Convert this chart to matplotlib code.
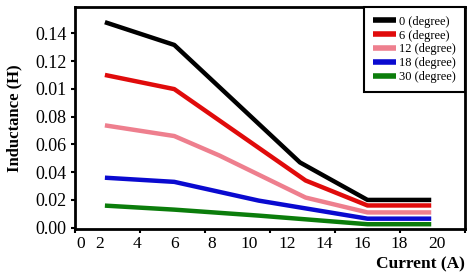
import numpy as np
import matplotlib
matplotlib.use('Agg')
import matplotlib.pyplot as plt

plt.rcParams['font.family'] = ['Liberation Serif', 'DejaVu Serif']

# current (A) and inductance (H)
x_black = [2.3, 6.0, 12.7, 16.3, 19.7]
y_black = [0.148, 0.1316, 0.047, 0.020, 0.020]
x_red = [2.3, 6.0, 13.0, 16.3, 19.7]
y_red = [0.110, 0.0998, 0.034, 0.016, 0.016]
x_pink = [2.3, 6.0, 8.4, 13.0, 16.3, 19.7]
y_pink = [0.0737, 0.066, 0.052, 0.0217, 0.011, 0.011]
x_blue = [2.3, 6.0, 10.5, 16.3, 19.7]
y_blue = [0.036, 0.033, 0.0195, 0.0065, 0.0065]
x_green = [2.3, 6.0, 10.5, 16.3, 19.7]
y_green = [0.0159, 0.013, 0.0087, 0.0025, 0.0025]

labels = ['0 (degree)', '6 (degree)', '12 (degree)', '18 (degree)', '30 (degree)']
colors = ['#000000', '#e00b0b', '#ee7f8e', '#0a0ad0', '#0b7d0b']

xtick_pos = [1.0, 2, 4, 6, 8, 10, 12, 14, 16, 18, 20]
xtick_lab = ['0', '2', '4', '6', '8', '10', '12', '14', '16', '18', '20']
ytick_pos = [0.0, 0.02, 0.04, 0.06, 0.08, 0.10, 0.12, 0.14]
ytick_lab = ['0.00', '0.02', '0.04', '0.06', '0.08', '0.01', '0.12', '0.14']

fig = plt.figure(figsize=(4.74, 2.76), dpi=100)
ax = fig.add_axes([0.158, 0.170, 0.823, 0.805])

series = [(x_black, y_black), (x_red, y_red), (x_pink, y_pink),
          (x_blue, y_blue), (x_green, y_green)]
for (xs, ys), c, lab in zip(series, colors, labels):
    ax.plot(xs, ys, color=c, lw=3.2, label=lab, solid_capstyle='butt')

ax.set_xlim(0.7, 21.5)
ax.set_ylim(-0.001, 0.159)

ax.set_xticks(xtick_pos)
ax.set_xticklabels(xtick_lab, fontsize=12.5)
ax.tick_params(axis='x', which='major', length=0, pad=5)
ax.set_xticks(np.linspace(0.7, 21.5, 7), minor=True)
ax.tick_params(axis='x', which='minor', length=3, width=1.5, direction='out')

ax.set_yticks(ytick_pos)
ax.set_yticklabels(ytick_lab, fontsize=13)
ax.tick_params(axis='y', length=3, width=1.5, direction='out', pad=3)

for s in ax.spines.values():
    s.set_linewidth(2)

ax.set_xlabel('Current (A)', fontsize=12.5, fontweight='bold')
ax.xaxis.set_label_coords(1.0, -0.125)
ax.xaxis.label.set_ha('right')
ax.set_ylabel('Inductance (H)', fontsize=12, fontweight='bold', labelpad=9)

leg = ax.legend(loc='upper right', borderaxespad=0, fontsize=9,
                labelspacing=0.15, handlelength=1.8, handletextpad=0.3,
                fancybox=False, framealpha=1, borderpad=0.7)
leg.get_frame().set_edgecolor('black')
leg.get_frame().set_linewidth(1.5)
for h in leg.get_lines():
    h.set_linewidth(4)

fig.savefig('out.png', dpi=100)
